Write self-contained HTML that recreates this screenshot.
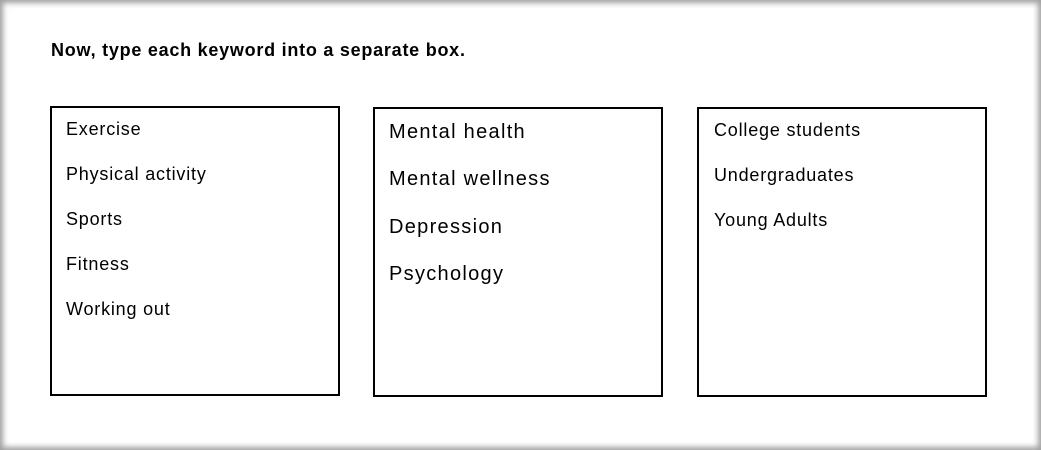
<!DOCTYPE html>
<html><head><style>
html,body{margin:0;padding:0;}
body{width:1041px;height:450px;position:relative;background:#fff;overflow:hidden;font-family:"Liberation Sans",sans-serif;color:#000;}
.frame{position:absolute;left:0;top:0;width:1041px;height:450px;box-shadow:inset 0 0 6px 3px #a0a0a0;}
.title{position:absolute;left:51px;top:40px;font-weight:bold;font-size:18px;letter-spacing:0.75px;}
.box{position:absolute;border:2px solid #000;box-sizing:border-box;width:290px;height:290px;}
.t{position:absolute;white-space:nowrap;}
.s{font-size:18px;letter-spacing:0.8px;}
.l{font-size:20px;letter-spacing:1.3px;}
</style></head><body>
<div class="frame"></div>
<div class="title">Now, type each keyword into a separate box.</div>
<div class="box" style="left:50px;top:106px;"></div>
<div class="box" style="left:373px;top:107px;"></div>
<div class="box" style="left:697px;top:107px;"></div>
<div class="t s" style="left:66px;top:119px;">Exercise</div>
<div class="t s" style="left:66px;top:164px;">Physical activity</div>
<div class="t s" style="left:66px;top:209px;">Sports</div>
<div class="t s" style="left:66px;top:254px;">Fitness</div>
<div class="t s" style="left:66px;top:299px;">Working out</div>
<div class="t l" style="left:389px;top:121px;">Mental health</div>
<div class="t l" style="left:389px;top:168px;">Mental wellness</div>
<div class="t l" style="left:389px;top:216px;">Depression</div>
<div class="t l" style="left:389px;top:263px;">Psychology</div>
<div class="t s" style="left:714px;top:120px;">College students</div>
<div class="t s" style="left:714px;top:165px;">Undergraduates</div>
<div class="t s" style="left:714px;top:210px;">Young Adults</div>
</body></html>
